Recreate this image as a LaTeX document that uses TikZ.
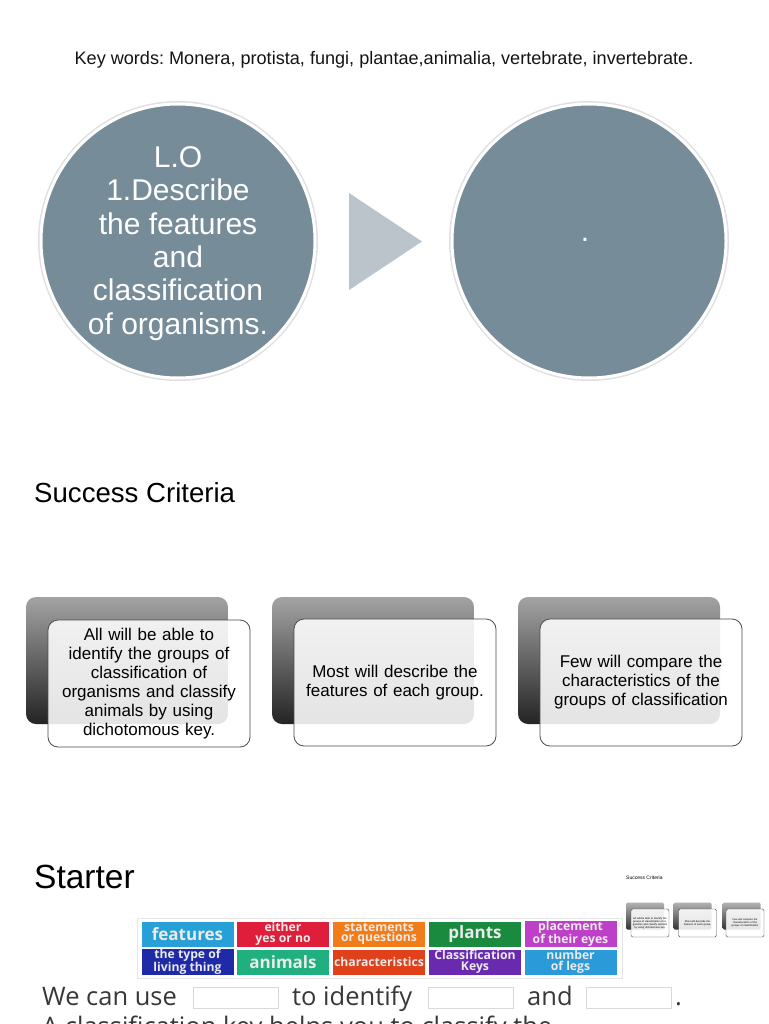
\documentclass[tikz,border=0pt]{standalone}
\usepackage{fontspec}
\setmainfont{Liberation Sans}
\newfontfamily\osans{Open Sans}
\frenchspacing
\definecolor{circ}{RGB}{119,140,153}
\definecolor{arrc}{RGB}{187,196,202}
\definecolor{tfeat}{RGB}{38,160,214}
\definecolor{tyes}{RGB}{222,30,58}
\definecolor{tstat}{RGB}{240,125,26}
\definecolor{tplant}{RGB}{26,138,62}
\definecolor{tplace}{RGB}{190,64,200}
\definecolor{ttype}{RGB}{30,42,168}
\definecolor{tanim}{RGB}{32,176,128}
\definecolor{tchar}{RGB}{224,64,26}
\definecolor{tkeys}{RGB}{106,42,176}
\definecolor{tlegs}{RGB}{42,154,216}
\tikzset{
  lo/.style={circle, minimum size=274pt, fill=circ, draw=white, line width=3pt,
    preaction={draw=black!12, line width=6pt}, inner sep=0pt},
  lotext/.style={text=white, align=center, inner sep=0pt,
    font=\fontsize{30}{33.4}\selectfont},
  backbox/.style={rounded corners=10pt, minimum width=202pt, minimum height=127pt,
    top color=black!36, bottom color=black!86, draw=none, inner sep=0pt},
  frontbox/.style={rounded corners=10pt, minimum width=202pt, minimum height=127pt,
    fill=white, fill opacity=0.88, text opacity=1, draw=black!70, line width=0.8pt,
    text width=195pt, align=center, inner sep=0pt,
    font=\fontsize{17}{19}\selectfont},
  tback/.style={rounded corners=1.5pt, minimum width=38pt, minimum height=27pt,
    top color=black!30, bottom color=black!80, draw=none, inner sep=0pt},
  tfront/.style={rounded corners=1.5pt, minimum width=38pt, minimum height=28pt,
    fill=white, fill opacity=0.88, text opacity=1, draw=black!70, line width=0.4pt,
    text width=36pt, align=center, inner sep=0pt,
    font=\fontsize{2.6}{3}\selectfont},
  tile/.style={minimum width=92pt, minimum height=25pt, inner sep=0pt,
    text=white!92!black, align=center, font=\osans\bfseries\fontsize{12.2}{10.6}\selectfont},
  bigtile/.style={tile, font=\osans\bfseries\fontsize{17}{17}\selectfont},
  blank/.style={draw=black!15, fill=white, minimum width=85pt, minimum height=21pt, inner sep=0pt},
  sent/.style={anchor=base west, inner sep=0pt, text=black!78,
    font=\osans\fontsize{25.5}{28}\selectfont},
}
\begin{document}
\begin{tikzpicture}[x=1pt,y=-1pt]
\useasboundingbox (0,0) rectangle (768,1024);
\clip (0,0) rectangle (768,1024);
\fill[white] (0,0) rectangle (768,1024);

% key words
\node[font=\fontsize{18.1}{20}\selectfont, text=black!92] (kw) at (384,60)
  {Key words: Monera, protista, fungi, plantae,animalia, vertebrate, invertebrate.};

% learning objective circles
\node[lo] (lo1) at (178,241) {};
\node[lotext] (lo1t) at (178,243.5) {L.O\\1.Describe\\the features\\and\\classification\\of organisms.};
\node[lo] (lo2) at (589,241) {};
\node[lotext] (lo2t) at (585,240) {.};
\fill[arrc] (349,193) -- (349,290) -- (422,241.5) -- cycle;
\coordinate (arrowtip) at (422,241.5);

% success criteria
\node[anchor=west, inner sep=0pt, font=\fontsize{27.6}{32}\selectfont] (sc) at (34,493) {Success Criteria};

\node[backbox] (b1) at (127,660.5) {};
\node[backbox] (b2) at (373,660.5) {};
\node[backbox] (b3) at (619,660.5) {};
\node[frontbox] (f1) at (149,683.5) {All will be able to\\identify the groups of\\classification of\\organisms and classify\\animals by using\\dichotomous key.};
\node[frontbox] (f2) at (395,682.5) {Most will describe the\\features of each group.};
\node[frontbox] (f3) at (641,682.5) {Few will compare the\\characteristics of the\\groups of classification};

% starter
\node[anchor=west, inner sep=0pt, font=\fontsize{33.5}{36}\selectfont] (st) at (34,877) {Starter};

% thumbnail
\node[anchor=west, font=\fontsize{5}{6}\selectfont, inner sep=0pt] (tsc) at (626,878) {Success Criteria};
\node[tback] (tb1) at (645,916) {};
\node[tback] (tb2) at (692.5,916) {};
\node[tback] (tb3) at (741.5,916) {};
\node[tfront] (tf1) at (650,923) {All will be able to identify the groups of classification of organisms and classify animals by using dichotomous key.};
\node[tfront] (tf2) at (697.5,923) {Most will describe the features of each group.};
\node[tfront] (tf3) at (745,923) {Few will compare the characteristics of the groups of classification};

% word tiles
\node[draw=black!10, fill=white, minimum width=485pt, minimum height=60pt, inner sep=0pt] (panel) at (379.5,948) {};
\node[bigtile, fill=tfeat] (w1) at (187.5,934) {features};
\node[tile, fill=tyes] (w2) at (283,934) {either\\yes or no};
\node[tile, fill=tstat] (w3) at (379,934) {statements\\or questions};
\node[bigtile, fill=tplant] (w4) at (475,934) {plants};
\node[tile, fill=tplace] (w5) at (570.5,934) {placement\\of their eyes};
\node[tile, fill=ttype] (w6) at (187.5,962) {the type of\\living thing};
\node[bigtile, fill=tanim] (w7) at (283,962) {animals};
\node[tile, fill=tchar, font=\osans\bfseries\fontsize{12.2}{11}\selectfont] (w8) at (379,962) {characteristics};
\node[tile, fill=tkeys] (w9) at (475,962) {Classification\\Keys};
\node[tile, fill=tlegs] (w10) at (570.5,962) {number\\of legs};

% sentence
\node[blank] (k1) at (235.5,997.5) {};
\node[blank] (k2) at (471,997.5) {};
\node[blank] (k3) at (629,997.5) {};
\node[sent] (s1) at (42,1005) {We can use};
\node[sent] (s2) at (292,1005) {to identify};
\node[sent] (s3) at (527,1005) {and};
\node[sent] (s4) at (675,1005) {.};
\node[sent] (s5) at (42,1035) {A classification key helps you to classify the};
\end{tikzpicture}
\end{document}
